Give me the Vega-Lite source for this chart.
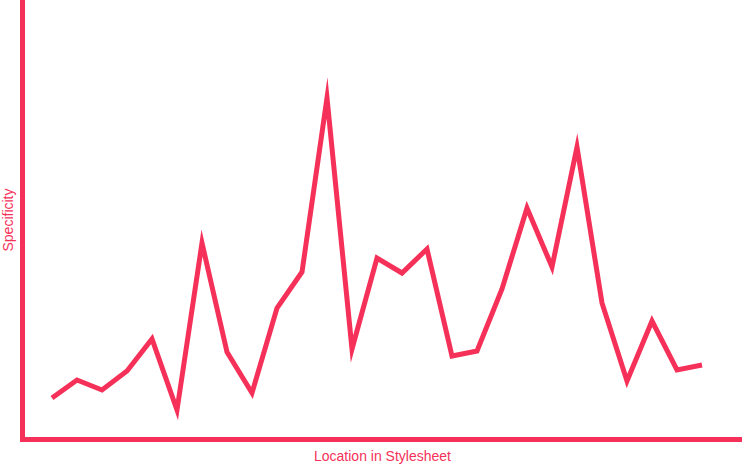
{
  "$schema": "https://vega.github.io/schema/vega-lite/v6.json",
  "autosize": "none",
  "padding": {"left": 22, "top": 0, "right": 0, "bottom": 25},
  "width": 720,
  "height": 439,
  "config": {
    "view": {"stroke": null},
    "axis": {
      "grid": false,
      "ticks": false,
      "labels": false,
      "domainColor": "#f63159",
      "domainWidth": 5,
      "domainCap": "square",
      "titleColor": "#f63159",
      "titleFont": "Liberation Sans",
      "titleFontSize": 14,
      "titleFontWeight": "normal"
    }
  },
  "data": {
    "values": [
      {"pos": 1, "specificity": 41},
      {"pos": 2, "specificity": 59},
      {"pos": 3, "specificity": 49},
      {"pos": 4, "specificity": 68},
      {"pos": 5, "specificity": 100},
      {"pos": 6, "specificity": 29},
      {"pos": 7, "specificity": 196},
      {"pos": 8, "specificity": 87},
      {"pos": 9, "specificity": 46},
      {"pos": 10, "specificity": 131},
      {"pos": 11, "specificity": 167},
      {"pos": 12, "specificity": 341},
      {"pos": 13, "specificity": 90},
      {"pos": 14, "specificity": 181},
      {"pos": 15, "specificity": 166},
      {"pos": 16, "specificity": 190},
      {"pos": 17, "specificity": 83},
      {"pos": 18, "specificity": 88},
      {"pos": 19, "specificity": 150},
      {"pos": 20, "specificity": 231},
      {"pos": 21, "specificity": 172},
      {"pos": 22, "specificity": 292},
      {"pos": 23, "specificity": 136},
      {"pos": 24, "specificity": 58},
      {"pos": 25, "specificity": 118},
      {"pos": 26, "specificity": 69},
      {"pos": 27, "specificity": 74}
    ]
  },
  "mark": {"type": "line", "color": "#f63159", "strokeWidth": 5, "strokeJoin": "miter", "strokeMiterLimit": 10},
  "encoding": {
    "x": {
      "field": "pos",
      "type": "quantitative",
      "title": "Location in Stylesheet",
      "scale": {"domain": [-0.2, 28.6], "nice": false, "zero": false},
      "axis": {"titlePadding": 10}
    },
    "y": {
      "field": "specificity",
      "type": "quantitative",
      "title": "Specificity",
      "scale": {"domain": [0, 439], "nice": false},
      "axis": {"titlePadding": 7}
    }
  }
}
